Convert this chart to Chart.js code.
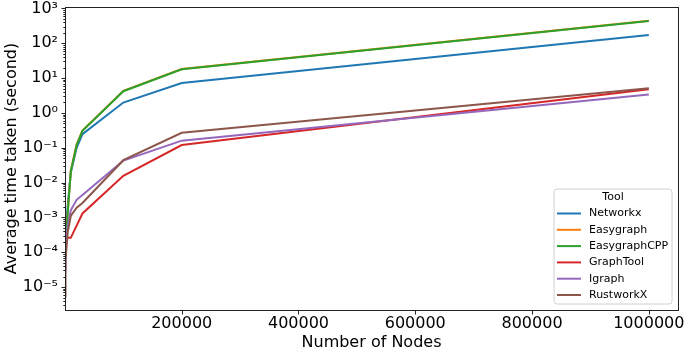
<!DOCTYPE html>
<html>
<head>
<meta charset="utf-8">
<script src="https://cdn.jsdelivr.net/npm/chart.js@4/dist/chart.umd.min.js"></script>
<style>
html,body{margin:0;padding:0;background:#fff;}
#wrap{width:685px;height:352px;position:relative;}
</style>
</head>
<body>
<div id="wrap"><canvas id="c" width="685" height="352"></canvas></div>
<script>
// ---- data ----
const nodes = [100, 1000, 5000, 10000, 20000, 30000, 100000, 200000, 1000000];
const networkx     = [1.2e-4, 3.0e-4, 2.5e-3, 1.9e-2, 0.10, 0.245, 1.99, 7.2, 172];
const easygraph    = [1.3e-4, 1.4e-4, 1.6e-3, 2.2e-2, 0.125, 0.31, 4.3, 18.2, 440];
const easygraphCPP = [1.2e-4, 1.5e-4, 1.5e-3, 2.1e-2, 0.12, 0.305, 4.2, 17.9, 433];
const graphTool    = [1.3e-4, 2.6e-4, 2.6e-4, 2.6e-4, 5.8e-4, 1.3e-3, 1.57e-2, 0.12, 4.8];
const igraph       = [3.2e-5, 1.5e-4, 6.0e-4, 1.6e-3, 3.2e-3, 4.4e-3, 4.3e-2, 0.16, 3.4];
const rustworkx    = [5.4e-6, 6.0e-5, 4.0e-4, 1.1e-3, 1.9e-3, 2.6e-3, 4.4e-2, 0.27, 5.1];

const seriesNames = ['Networkx', 'Easygraph', 'EasygraphCPP', 'GraphTool', 'Igraph', 'RustworkX'];
const seriesValues = [networkx, easygraph, easygraphCPP, graphTool, igraph, rustworkx];
const seriesColors = ['#1f77b4', '#ff7f0e', '#2ca02c', '#d62728', '#9467bd', '#8c564b'];

const xTickValues = [200000, 400000, 600000, 800000, 1000000];
const xTickLabels = ['200000', '400000', '600000', '800000', '1000000'];
const yTickValues = [1e-5, 1e-4, 1e-3, 1e-2, 1e-1, 1e0, 1e1, 1e2, 1e3];
const yTickLabels = ['10\u207B\u2075', '10\u207B\u2074', '10\u207B\u00B3', '10\u207B\u00B2', '10\u207B\u00B9', '10\u2070', '10\u00B9', '10\u00B2', '10\u00B3'];

const xTitle = 'Number of Nodes';
const yTitle = 'Average time taken (second)';
const legendTitle = 'Tool';

const FONT = "'DejaVu Sans', sans-serif";

const datasets = seriesNames.map((name, i) => ({
  label: name,
  data: nodes.map((x, j) => ({x: x, y: seriesValues[i][j]})),
  borderColor: seriesColors[i],
  backgroundColor: seriesColors[i],
  borderWidth: 2,
  pointRadius: 0,
  tension: 0,
  fill: false,
  order: seriesNames.length - 1 - i
}));

const framePlugin = {
  id: 'frame',
  afterDraw(chart) {
    const ctx = chart.ctx;
    const a = chart.chartArea;
    const ys = chart.scales.y, xs = chart.scales.x;
    ctx.save();
    ctx.strokeStyle = '#222';
    ctx.lineWidth = 1;
    ctx.strokeRect(Math.round(a.left) + 0.5, Math.round(a.top) + 0.5,
                   Math.round(a.right - a.left), Math.round(a.bottom - a.top));
    // y ticks major & minor
    ctx.beginPath();
    const L = Math.round(a.left) + 0.5;
    for (let k = -7; k <= 4; k++) {
      for (let m = 1; m <= 9; m++) {
        const v = m * Math.pow(10, k);
        if (v < ys.min || v > ys.max) continue;
        const y = Math.round(ys.getPixelForValue(v)) + 0.5;
        const len = (m === 1) ? 4 : 2.2;
        ctx.moveTo(L, y); ctx.lineTo(L - len, y);
      }
    }
    // x ticks
    const B = Math.round(a.bottom) + 0.5;
    xTickValues.forEach(v => {
      const x = Math.round(xs.getPixelForValue(v)) + 0.5;
      ctx.moveTo(x, B); ctx.lineTo(x, B + 4);
    });
    ctx.stroke();

    // legend
    const lx = 554, ly = 189, lw = 118, lh = 115, r = 3;
    ctx.beginPath();
    ctx.moveTo(lx + r, ly);
    ctx.lineTo(lx + lw - r, ly); ctx.arcTo(lx + lw, ly, lx + lw, ly + r, r);
    ctx.lineTo(lx + lw, ly + lh - r); ctx.arcTo(lx + lw, ly + lh, lx + lw - r, ly + lh, r);
    ctx.lineTo(lx + r, ly + lh); ctx.arcTo(lx, ly + lh, lx, ly + lh - r, r);
    ctx.lineTo(lx, ly + r); ctx.arcTo(lx, ly, lx + r, ly, r);
    ctx.closePath();
    ctx.fillStyle = 'rgba(255,255,255,0.8)';
    ctx.fill();
    ctx.strokeStyle = '#d0d0d0';
    ctx.lineWidth = 1;
    ctx.stroke();
    ctx.font = '11px ' + FONT;
    ctx.fillStyle = '#000';
    ctx.textBaseline = 'middle';
    ctx.textAlign = 'center';
    ctx.fillText(legendTitle, lx + lw / 2, ly + 8.5);
    ctx.textAlign = 'left';
    seriesNames.forEach((name, i) => {
      const yy = ly + 24.5 + i * 16.3;
      ctx.strokeStyle = seriesColors[i];
      ctx.lineWidth = 2;
      ctx.beginPath();
      ctx.moveTo(557, yy); ctx.lineTo(581, yy);
      ctx.stroke();
      ctx.fillStyle = '#000';
      ctx.fillText(name, 589, yy);
    });
    ctx.restore();
  }
};

function noPad(s) { s.paddingLeft = 0; s.paddingRight = 0; s.paddingTop = 0; s.paddingBottom = 0; }

new Chart(document.getElementById('c'), {
  type: 'line',
  data: { datasets: datasets },
  options: {
    responsive: false,
    animation: false,
    devicePixelRatio: 1,
    layout: { padding: { top: 7, right: 7, left: 0, bottom: 0 } },
    plugins: { legend: { display: false }, tooltip: { enabled: false } },
    scales: {
      x: {
        type: 'linear',
        min: 100,
        max: 1050000,
        grid: { display: false, drawTicks: false, tickLength: 0 },
        border: { display: false },
        afterBuildTicks: s => { s.ticks = xTickValues.map(v => ({value: v})); },
        afterFit: s => { s.height = 42; noPad(s); },
        ticks: {
          autoSkip: false,
          maxRotation: 0,
          padding: 4,
          color: '#000',
          font: { family: FONT, size: 16 },
          callback: (v) => { const i = xTickValues.indexOf(v); return i >= 0 ? xTickLabels[i] : ''; }
        },
        title: { display: true, text: xTitle, color: '#000', padding: {top: 0, bottom: 0},
                 font: { family: FONT, size: 16 } }
      },
      y: {
        type: 'logarithmic',
        min: 2.2e-6,
        max: 1100,
        grid: { display: false, drawTicks: false, tickLength: 0 },
        border: { display: false },
        afterBuildTicks: s => { s.ticks = yTickValues.map(v => ({value: v})); },
        afterFit: s => { s.width = 65; noPad(s); },
        ticks: {
          autoSkip: false,
          padding: 7,
          color: '#000',
          font: { family: FONT, size: 16 },
          callback: (v) => { const i = yTickValues.findIndex(t => Math.abs(Math.log10(t) - Math.log10(v)) < 1e-6); return i >= 0 ? yTickLabels[i] : ''; }
        },
        title: { display: true, text: yTitle, color: '#000', padding: {top: 2, bottom: 0},
                 font: { family: FONT, size: 16 } }
      }
    }
  },
  plugins: [framePlugin]
});
</script>
</body>
</html>
